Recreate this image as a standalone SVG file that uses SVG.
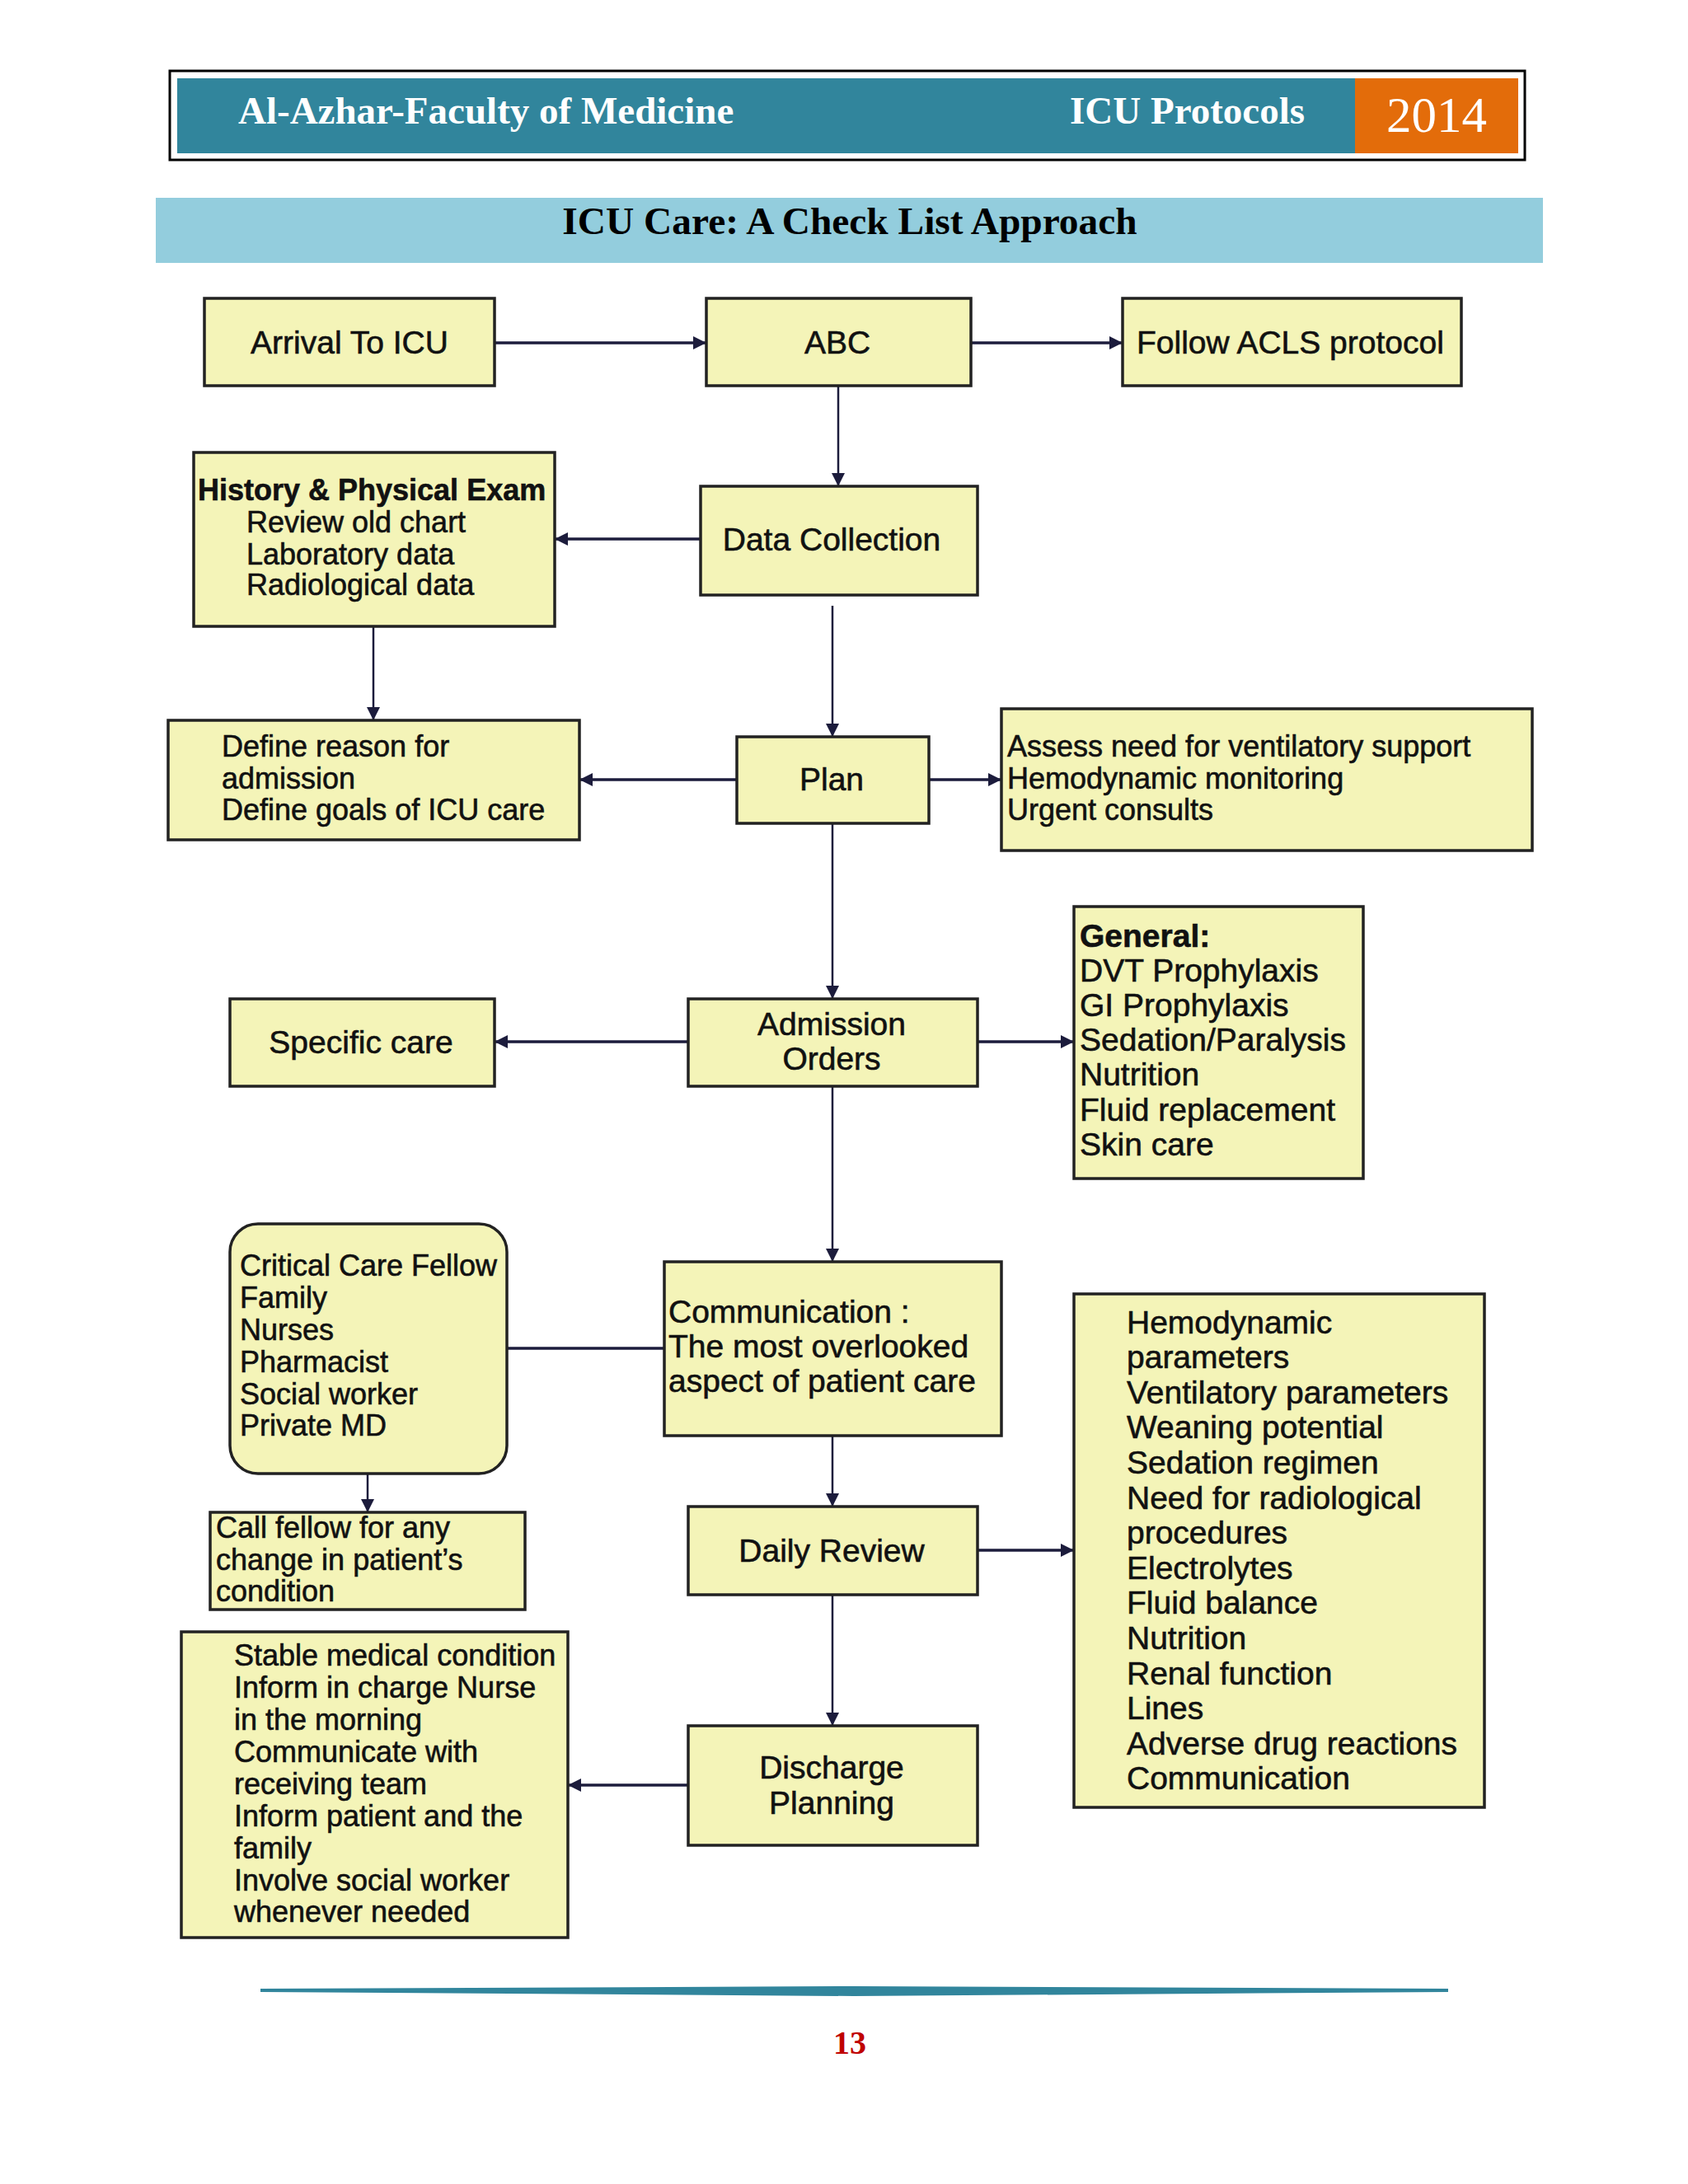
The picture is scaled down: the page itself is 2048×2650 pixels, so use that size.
<svg xmlns="http://www.w3.org/2000/svg" width="2048" height="2650" viewBox="0 0 2048 2650">
<defs>
<style>
.box{fill:#F4F4B8;stroke:#222;stroke-width:3.5}
.t{font-family:"Liberation Sans",Arial,sans-serif;fill:#111;stroke:#111;stroke-width:0.6}
.s{font-size:36px}
.m{font-size:39px}
.c{text-anchor:middle}
.b{font-weight:bold}
.ln{stroke:#1c1c3c;stroke-width:2.5;fill:none}
.h{stroke-width:3.5}
.hd{font-family:"Liberation Serif","Times New Roman",serif;font-weight:bold;fill:#fff;font-size:47px}
</style>
<marker id="ah" viewBox="0 0 10 10" refX="10" refY="5" markerWidth="16" markerHeight="16" orient="auto" markerUnits="userSpaceOnUse">
<path d="M0,0 L10,5 L0,10 z" fill="#1c1c3c"/>
</marker>
</defs>
<rect width="2048" height="2650" fill="#fff"/>
<g id="header">
<rect x="206" y="86" width="1644" height="108" fill="none" stroke="#000" stroke-width="3"/>
<rect x="215" y="95" width="1429" height="91" fill="#31859C"/>
<rect x="1644" y="95" width="198" height="91" fill="#E36C0A"/>
<text x="289" y="150" class="hd">Al-Azhar-Faculty of Medicine</text>
<text x="1298" y="150" class="hd">ICU Protocols</text>
<text x="1743" y="160" font-family="Liberation Serif,serif" font-size="61" fill="#fff" text-anchor="middle">2014</text>
</g>
<g id="title">
<rect x="189" y="240" width="1683" height="79" fill="#93CDDD"/>
<text x="1031" y="284" font-family="Liberation Serif,serif" font-weight="bold" font-size="47.4" fill="#000" text-anchor="middle">ICU Care: A Check List Approach</text>
</g>
<g id="connectors">
<line class="ln h" x1="600" y1="416" x2="857" y2="416" marker-end="url(#ah)"/>
<line class="ln h" x1="1178" y1="416" x2="1362" y2="416" marker-end="url(#ah)"/>
<line class="ln" x1="1017" y1="468" x2="1017" y2="590" marker-end="url(#ah)"/>
<line class="ln h" x1="850" y1="654" x2="673" y2="654" marker-end="url(#ah)"/>
<line class="ln" x1="453" y1="760" x2="453" y2="874" marker-end="url(#ah)"/>
<line class="ln" x1="1010" y1="735" x2="1010" y2="894" marker-end="url(#ah)"/>
<line class="ln h" x1="894" y1="946" x2="703" y2="946" marker-end="url(#ah)"/>
<line class="ln h" x1="1127" y1="946" x2="1215" y2="946" marker-end="url(#ah)"/>
<line class="ln" x1="1010" y1="999" x2="1010" y2="1212" marker-end="url(#ah)"/>
<line class="ln h" x1="835" y1="1264" x2="600" y2="1264" marker-end="url(#ah)"/>
<line class="ln h" x1="1186" y1="1264" x2="1303" y2="1264" marker-end="url(#ah)"/>
<line class="ln" x1="1010" y1="1318" x2="1010" y2="1531" marker-end="url(#ah)"/>
<line class="ln h" x1="806" y1="1636" x2="615" y2="1636"/>
<line class="ln" x1="446" y1="1788" x2="446" y2="1835" marker-end="url(#ah)"/>
<line class="ln" x1="1010" y1="1742" x2="1010" y2="1828" marker-end="url(#ah)"/>
<line class="ln h" x1="1186" y1="1881" x2="1303" y2="1881" marker-end="url(#ah)"/>
<line class="ln" x1="1010" y1="1935" x2="1010" y2="2094" marker-end="url(#ah)"/>
<line class="ln h" x1="835" y1="2166" x2="689" y2="2166" marker-end="url(#ah)"/>
</g>
<g id="arrival">
<rect class="box" x="248" y="362" width="352" height="106"/>
<text class="t m c" x="424" y="429">Arrival To ICU</text>
</g>
<g id="abc">
<rect class="box" x="857" y="362" width="321" height="106"/>
<text class="t m c" x="1016" y="429">ABC</text>
</g>
<g id="acls">
<rect class="box" x="1362" y="362" width="411" height="106"/>
<text class="t m" x="1379" y="429">Follow ACLS protocol</text>
</g>
<g id="history">
<rect class="box" x="235" y="549" width="438" height="211"/>
<text class="t s b" x="240" y="607">History &amp; Physical Exam</text>
<text class="t s" x="299" y="646">Review old chart</text>
<text class="t s" x="299" y="685">Laboratory data</text>
<text class="t s" x="299" y="722">Radiological data</text>
</g>
<g id="datacollection">
<rect class="box" x="850" y="590" width="336" height="132"/>
<text class="t m c" x="1009" y="668">Data Collection</text>
</g>
<g id="define">
<rect class="box" x="204" y="874" width="499" height="145"/>
<text class="t s" x="269" y="918">Define reason for</text>
<text class="t s" x="269" y="957">admission</text>
<text class="t s" x="269" y="995">Define goals of ICU care</text>
</g>
<g id="plan">
<rect class="box" x="894" y="894" width="233" height="105"/>
<text class="t m c" x="1009" y="959">Plan</text>
</g>
<g id="assess">
<rect class="box" x="1215" y="860" width="644" height="172"/>
<text class="t s" x="1222" y="918">Assess need for ventilatory support</text>
<text class="t s" x="1222" y="957">Hemodynamic monitoring</text>
<text class="t s" x="1222" y="995">Urgent consults</text>
</g>
<g id="specific">
<rect class="box" x="279" y="1212" width="321" height="106"/>
<text class="t m c" x="438" y="1278">Specific care</text>
</g>
<g id="admission">
<rect class="box" x="835" y="1212" width="351" height="106"/>
<text class="t m c" x="1009" y="1256">Admission</text>
<text class="t m c" x="1009" y="1298">Orders</text>
</g>
<g id="general">
<rect class="box" x="1303" y="1100" width="351" height="330"/>
<text class="t m b" x="1310" y="1149">General:</text>
<text class="t m" x="1310" y="1191">DVT Prophylaxis</text>
<text class="t m" x="1310" y="1233">GI Prophylaxis</text>
<text class="t m" x="1310" y="1275">Sedation/Paralysis</text>
<text class="t m" x="1310" y="1317">Nutrition</text>
<text class="t m" x="1310" y="1360">Fluid replacement</text>
<text class="t m" x="1310" y="1402">Skin care</text>
</g>
<g id="team">
<rect class="box" x="279" y="1485" width="336" height="303" rx="34" ry="34"/>
<text class="t s" x="291" y="1548">Critical Care Fellow</text>
<text class="t s" x="291" y="1587">Family</text>
<text class="t s" x="291" y="1626">Nurses</text>
<text class="t s" x="291" y="1665">Pharmacist</text>
<text class="t s" x="291" y="1704">Social worker</text>
<text class="t s" x="291" y="1742">Private MD</text>
</g>
<g id="communication">
<rect class="box" x="806" y="1531" width="409" height="211"/>
<text class="t m" x="811" y="1605">Communication :</text>
<text class="t m" x="811" y="1647">The most overlooked</text>
<text class="t m" x="811" y="1689">aspect of patient care</text>
</g>
<g id="reviewlist">
<rect class="box" x="1303" y="1570" width="498" height="623"/>
<text class="t m" x="1367" y="1618">Hemodynamic</text>
<text class="t m" x="1367" y="1660">parameters</text>
<text class="t m" x="1367" y="1703">Ventilatory parameters</text>
<text class="t m" x="1367" y="1745">Weaning potential</text>
<text class="t m" x="1367" y="1788">Sedation regimen</text>
<text class="t m" x="1367" y="1831">Need for radiological</text>
<text class="t m" x="1367" y="1873">procedures</text>
<text class="t m" x="1367" y="1916">Electrolytes</text>
<text class="t m" x="1367" y="1958">Fluid balance</text>
<text class="t m" x="1367" y="2001">Nutrition</text>
<text class="t m" x="1367" y="2044">Renal function</text>
<text class="t m" x="1367" y="2086">Lines</text>
<text class="t m" x="1367" y="2129">Adverse drug reactions</text>
<text class="t m" x="1367" y="2171">Communication</text>
</g>
<g id="callfellow">
<rect class="box" x="255" y="1835" width="382" height="118"/>
<text class="t s" x="262" y="1866">Call fellow for any</text>
<text class="t s" x="262" y="1905">change in patient’s</text>
<text class="t s" x="262" y="1943">condition</text>
</g>
<g id="dailyreview">
<rect class="box" x="835" y="1828" width="351" height="107"/>
<text class="t m c" x="1009" y="1895">Daily Review</text>
</g>
<g id="dischargelist">
<rect class="box" x="220" y="1980" width="469" height="371"/>
<text class="t s" x="284" y="2021">Stable medical condition</text>
<text class="t s" x="284" y="2060">Inform in charge Nurse</text>
<text class="t s" x="284" y="2099">in the morning</text>
<text class="t s" x="284" y="2138">Communicate with</text>
<text class="t s" x="284" y="2177">receiving team</text>
<text class="t s" x="284" y="2216">Inform patient and the</text>
<text class="t s" x="284" y="2255">family</text>
<text class="t s" x="284" y="2294">Involve social worker</text>
<text class="t s" x="284" y="2332">whenever needed</text>
</g>
<g id="discharge">
<rect class="box" x="835" y="2094" width="351" height="145"/>
<text class="t m c" x="1009" y="2158">Discharge</text>
<text class="t m c" x="1009" y="2201">Planning</text>
</g>
<g id="footer">
<polygon points="316,2413 1036,2410 1757,2413 1757,2417 1036,2422 316,2417" fill="#31859C"/>
<text x="1031" y="2492" font-family="Liberation Serif,serif" font-weight="bold" font-size="40" fill="#C00000" text-anchor="middle">13</text>
</g>
</svg>
